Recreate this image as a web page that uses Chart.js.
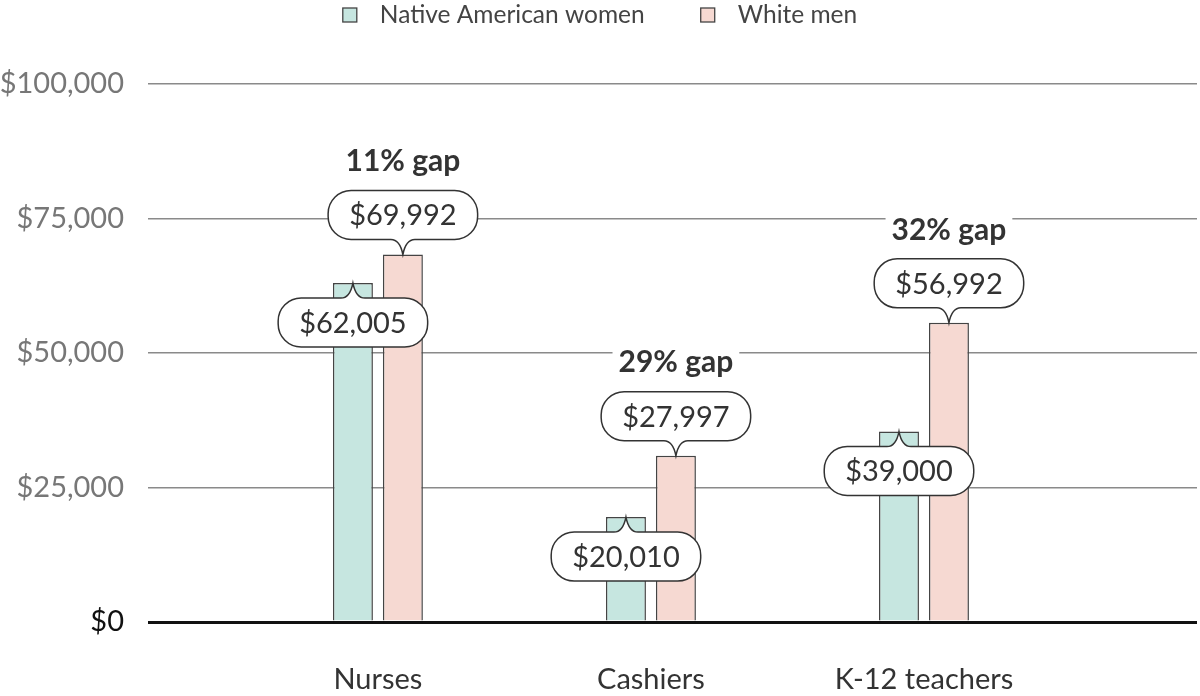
<!DOCTYPE html>
<html>
<head>
<meta charset="utf-8">
<script src="https://cdn.jsdelivr.net/npm/chart.js@4/dist/chart.umd.min.js"></script>
<style>
  html, body { margin: 0; padding: 0; background: #fff; }
  #wrap { width: 1200px; height: 696px; position: relative; }
</style>
</head>
<body>
<div id="wrap"><canvas id="c"></canvas></div>
<script>
// ---- data ----
const categories = ['Nurses', 'Cashiers', 'K-12 teachers'];
const seriesNames = ['Native American women', 'White men'];
const nativeWomen = [63000, 19500, 35400];      // bar heights as drawn
const whiteMen = [68300, 30900, 55600];         // bar heights as drawn
const nativeWomenLabels = [62005, 20010, 39000]; // values printed in the callouts
const whiteMenLabels = [69992, 27997, 56992];
const gapLabels = ['11% gap', '29% gap', '32% gap'];
const yTicks = [0, 25000, 50000, 75000, 100000];

const FONT = 'Lato, "Open Sans", sans-serif';
const fmt = v => '$' + v.toLocaleString('en-US');

function bubblePath(ctx, left, top, w, h, r, cx, tipY, down) {
  const right = left + w, bottom = top + h, n = 12, c = 3;
  ctx.beginPath();
  ctx.moveTo(left + r, top);
  if (!down) {
    ctx.lineTo(cx - n, top);
    ctx.quadraticCurveTo(cx - c, top, cx, tipY);
    ctx.quadraticCurveTo(cx + c, top, cx + n, top);
  }
  ctx.lineTo(right - r, top);
  ctx.arcTo(right, top, right, top + r, r);
  ctx.lineTo(right, bottom - r);
  ctx.arcTo(right, bottom, right - r, bottom, r);
  if (down) {
    ctx.lineTo(cx + n, bottom);
    ctx.quadraticCurveTo(cx + c, bottom, cx, tipY);
    ctx.quadraticCurveTo(cx - c, bottom, cx - n, bottom);
  }
  ctx.lineTo(left + r, bottom);
  ctx.arcTo(left, bottom, left, bottom - r, r);
  ctx.lineTo(left, top + r);
  ctx.arcTo(left, top, left + r, top, r);
  ctx.closePath();
}

const annotate = {
  id: 'annotate',
  afterDatasetsDraw(chart) {
    const ctx = chart.ctx;
    const H = 49, NOTCH = 15, PADX = 21, R = 23;
    const metaW = chart.getDatasetMeta(0), metaM = chart.getDatasetMeta(1);
    ctx.save();
    ctx.lineWidth = 1.5;
    ctx.strokeStyle = '#333';
    // white men callouts + gap labels
    metaM.data.forEach((bar, i) => {
      ctx.font = '29px ' + FONT;
      const txt = fmt(whiteMenLabels[i]);
      const w = ctx.measureText(txt).width + PADX * 2;
      const bottom = bar.y - NOTCH, top = bottom - H;
      bubblePath(ctx, bar.x - w / 2, top, w, H, R, bar.x, bar.y, true);
      ctx.fillStyle = '#fff'; ctx.fill(); ctx.stroke();
      ctx.fillStyle = '#333'; ctx.textAlign = 'center'; ctx.textBaseline = 'middle';
      ctx.fillText(txt, bar.x, top + H / 2 + 1);
      // gap label
      ctx.font = 'bold 30px ' + FONT;
      const gw = ctx.measureText(gapLabels[i]).width + 12;
      const gy = top - 29;
      ctx.fillStyle = '#fff';
      ctx.fillRect(bar.x - gw / 2, gy - 18, gw, 36);
      ctx.fillStyle = '#333';
      ctx.fillText(gapLabels[i], bar.x, gy);
    });
    // native american women callouts
    metaW.data.forEach((bar, i) => {
      ctx.font = '29px ' + FONT;
      const txt = fmt(nativeWomenLabels[i]);
      const w = ctx.measureText(txt).width + PADX * 2;
      const top = bar.y + NOTCH;
      bubblePath(ctx, bar.x - w / 2, top, w, H, R, bar.x, bar.y, false);
      ctx.fillStyle = '#fff'; ctx.fill(); ctx.stroke();
      ctx.fillStyle = '#333'; ctx.textAlign = 'center'; ctx.textBaseline = 'middle';
      ctx.fillText(txt, bar.x, top + H / 2 + 1);
    });
    // legend
    ctx.font = '24.5px ' + FONT;
    const BOX = 14, GAP = 23, ITEMGAP = 56;
    const widths = chart.data.datasets.map(d => BOX + GAP + ctx.measureText(d.label).width);
    const total = widths.reduce((a, b) => a + b, 0) + ITEMGAP * (widths.length - 1);
    let x = chart.width / 2 - total / 2;
    const ly = 15;
    chart.data.datasets.forEach((d, i) => {
      ctx.fillStyle = d.backgroundColor;
      ctx.fillRect(x, ly - BOX / 2, BOX, BOX);
      ctx.lineWidth = 1.3; ctx.strokeStyle = '#444';
      ctx.strokeRect(x, ly - BOX / 2, BOX, BOX);
      ctx.fillStyle = '#444'; ctx.textAlign = 'left'; ctx.textBaseline = 'middle';
      ctx.fillText(d.label, x + BOX + GAP, ly);
      x += widths[i] + ITEMGAP;
    });
    ctx.restore();
  }
};

new Chart(document.getElementById('c'), {
  type: 'bar',
  data: {
    datasets: [
      { label: seriesNames[0], data: nativeWomen.map((v, i) => ({ x: i + 1, y: v })),
        backgroundColor: '#c6e6e0', borderColor: '#444', borderWidth: 1.5 },
      { label: seriesNames[1], data: whiteMen.map((v, i) => ({ x: i + 1, y: v })),
        backgroundColor: '#f6d9d2', borderColor: '#444', borderWidth: 1.5 }
    ]
  },
  options: {
    responsive: true,
    maintainAspectRatio: false,
    animation: false,
    devicePixelRatio: 1,
    categoryPercentage: 0.366,
    barPercentage: 0.8,
    layout: { padding: { top: 84, right: 3, left: 0, bottom: 0 } },
    plugins: { legend: { display: false }, tooltip: { enabled: false } },
    scales: {
      x: {
        type: 'linear', min: 0.158, max: 4.0, offset: false,
        grid: { display: false }, border: { display: false },
        afterBuildTicks: s => { s.ticks = categories.map((c, i) => ({ value: i + 1 })); },
        afterFit: s => { s.height = 74; s.paddingLeft = 0; s.paddingRight = 0; },
        ticks: {
          callback: v => categories[v - 1] || '',
          font: { family: FONT, size: 29 }, color: '#333', padding: 32,
          autoSkip: false, maxRotation: 0
        }
      },
      y: {
        min: 0, max: 100000,
        afterBuildTicks: s => { s.ticks = yTicks.map(v => ({ value: v })); },
        afterFit: s => { s.width = 148; },
        grid: {
          drawTicks: false,
          color: c => c.tick && c.tick.value === 0 ? '#111' : '#8a8a8a',
          lineWidth: c => c.tick && c.tick.value === 0 ? 3 : 1.5
        },
        border: { display: false },
        ticks: {
          callback: v => fmt(v),
          color: c => c.tick && c.tick.value === 0 ? '#111' : '#777',
          font: { family: FONT, size: 29 }, padding: 24
        }
      }
    }
  },
  plugins: [annotate]
});
</script>
</body>
</html>
